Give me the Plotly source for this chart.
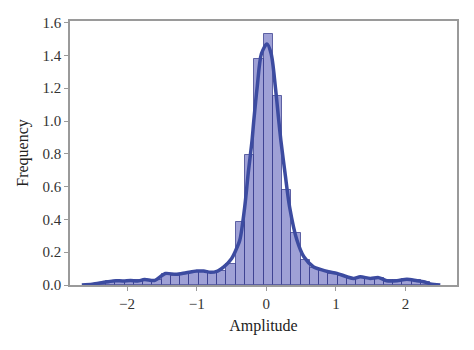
import plotly.graph_objects as go

# Histogram bins (left edge of first bin and common width)
bin_start = -2.567
bin_width = 0.133
bar_heights = [
    0.005, 0.014, 0.024, 0.024, 0.022, 0.030, 0.033, 0.028, 0.065, 0.057,
    0.065, 0.077, 0.085, 0.082, 0.085, 0.13, 0.385, 0.79, 1.38, 1.53,
    1.15, 0.58, 0.315, 0.15, 0.105, 0.085, 0.07, 0.055, 0.042, 0.045,
    0.037, 0.045, 0.03, 0.028, 0.035, 0.028, 0.02,
]
bin_centers = [bin_start + bin_width * (i + 0.5) for i in range(len(bar_heights))]

# Density curve sampled along the amplitude axis
kde_x = [-2.65, -2.5, -2.35, -2.2, -2.05, -1.95, -1.85, -1.75, -1.6, -1.45,
         -1.3, -1.15, -1.0, -0.9, -0.8, -0.7, -0.61, -0.5, -0.44, -0.38,
         -0.31, -0.26, -0.205, -0.18, -0.13, -0.07, 0.01, 0.07, 0.13, 0.18,
         0.21, 0.27, 0.335, 0.44, 0.54, 0.68, 0.776, 0.895, 1.015, 1.159,
         1.255, 1.35, 1.494, 1.614, 1.73, 1.877, 2.02, 2.164, 2.26, 2.356, 2.5]
kde_y = [0.0, 0.005, 0.015, 0.025, 0.025, 0.028, 0.024, 0.033, 0.028, 0.07,
         0.065, 0.075, 0.085, 0.085, 0.077, 0.085, 0.11, 0.16, 0.21, 0.274,
         0.476, 0.68, 0.88, 1.0, 1.21, 1.41, 1.47, 1.41, 1.21, 1.0,
         0.88, 0.68, 0.476, 0.274, 0.172, 0.11, 0.095, 0.081, 0.071, 0.05,
         0.04, 0.05, 0.04, 0.045, 0.026, 0.026, 0.035, 0.026, 0.02, 0.007, 0.0]

x_ticks = [-2, -1, 0, 1, 2]
y_ticks = [0.0, 0.2, 0.4, 0.6, 0.8, 1.0, 1.2, 1.4, 1.6]

fig = go.Figure()
fig.add_trace(go.Bar(
    x=bin_centers, y=bar_heights, width=bin_width,
    marker=dict(color="rgba(80,84,180,0.55)",
                line=dict(color="rgba(55,60,140,0.75)", width=1)),
    showlegend=False,
))
fig.add_trace(go.Scatter(
    x=kde_x, y=kde_y, mode="lines",
    line=dict(color="#3c4ba0", width=3.5, shape="spline", smoothing=0.8),
    showlegend=False,
))

axis_common = dict(
    showline=True, linecolor="#9a9a9a", linewidth=1.5, mirror=True,
    ticks="outside", ticklen=4, tickcolor="#9a9a9a", tickwidth=1.2,
    showgrid=False, zeroline=False,
    tickfont=dict(family="Liberation Serif", size=15, color="#333333"),
)
fig.update_layout(
    width=474, height=350,
    margin=dict(l=70, r=17, t=21, b=65),
    plot_bgcolor="white", paper_bgcolor="white",
    bargap=0,
    xaxis=dict(range=[-2.82, 2.74], tickvals=x_ticks,
               ticktext=["\u22122", "\u22121", "0", "1", "2"],
               title=dict(text="Amplitude", standoff=9,
                          font=dict(family="Liberation Serif", size=16, color="#222222")),
               **axis_common),
    yaxis=dict(range=[0, 1.61], tickvals=y_ticks,
               ticktext=[f"{v:.1f}" for v in y_ticks],
               title=dict(text="Frequency", standoff=10,
                          font=dict(family="Liberation Serif", size=16, color="#222222")),
               **axis_common),
)

fig.write_html("out.html")
